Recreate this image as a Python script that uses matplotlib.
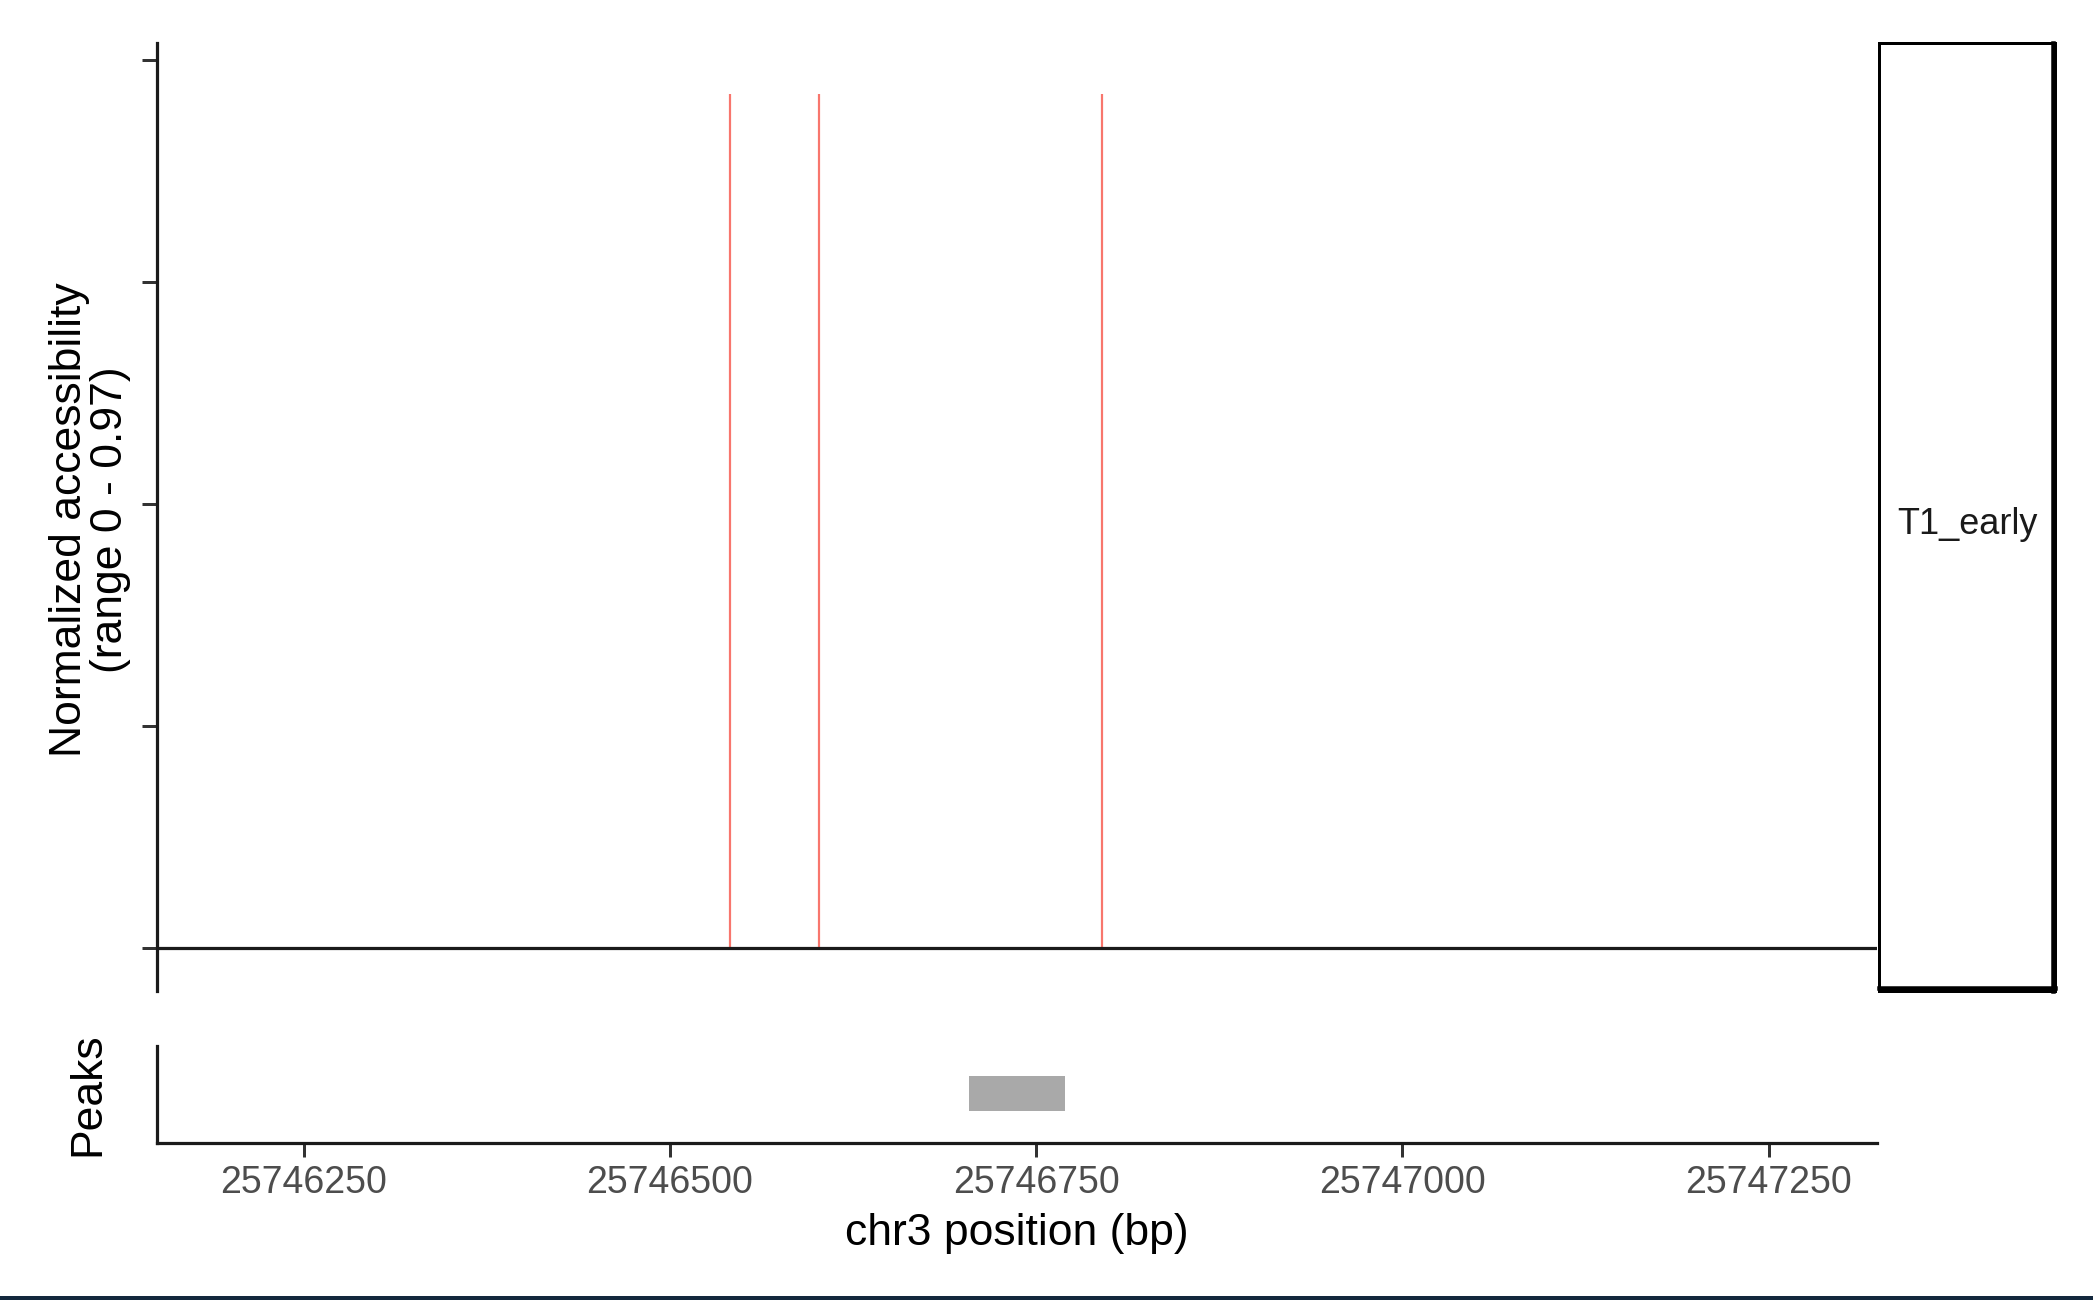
import matplotlib
matplotlib.use("Agg")
import matplotlib.pyplot as plt
from matplotlib.patches import Rectangle
from matplotlib.lines import Line2D

plt.rcParams['font.family'] = ['Liberation Sans', 'DejaVu Sans']

# ---- data ----
region_start = 25746150
region_end = 25747324
chrom = "chr3"
group_name = "T1_early"
range_max = 0.97
spike_pos = [25746541, 25746602, 25746795]
spike_val = [0.962, 0.962, 0.962]
peak_start = [25746704]
peak_end = [25746770]
x_ticks = [25746250, 25746500, 25746750, 25747000, 25747250]
y_ticks = [0, 0.25, 0.5, 0.75, 1.0]

W, H = 2093, 1300
fig = plt.figure(figsize=(W / 100, H / 100), dpi=100)
fig.patch.set_facecolor('white')

def fx(px):
    return px / W

def fy(py):
    return 1 - py / H

px2pt = 72 / 100

# main coverage panel
L, R = 157.3, 1877
T, B = 42.7, 990.7
ax = fig.add_axes([fx(L), fy(B), fx(R) - fx(L), fy(T) - fy(B)])
ax.set_xlim(region_start, region_end)
ax.set_ylim(-0.048, 1.0195)
ax.vlines(spike_pos, 0, spike_val, color='#F8766D', lw=2.2 * px2pt)
ax.axhline(0, color='#1a1a1a', lw=3.2 * px2pt)
for s in ['top', 'right', 'bottom']:
    ax.spines[s].set_visible(False)
ax.spines['left'].set_linewidth(3.2 * px2pt)
ax.spines['left'].set_color('#1a1a1a')
ax.set_yticks(y_ticks)
ax.set_yticklabels([])
ax.tick_params(axis='y', length=10.5, width=3 * px2pt, color='#333333')
ax.set_xticks([])

# strip on the right
sL, sR = 1879, 2055
sax = fig.add_axes([fx(sL), fy(B), fx(sR) - fx(sL), fy(T) - fy(B)])
sax.set_xlim(0, 1)
sax.set_ylim(0, 1)
sax.set_xticks([])
sax.set_yticks([])
for s in sax.spines.values():
    s.set_linewidth(3.0 * px2pt)
    s.set_color('black')
sax.add_line(Line2D([0.99, 0.99], [0, 1], transform=sax.transAxes, color='black', lw=4.5 * px2pt, clip_on=False))
sax.add_line(Line2D([0, 1], [0.003, 0.003], transform=sax.transAxes, color='black', lw=4.5 * px2pt, clip_on=False))
sax.text(0.5, 0.492, group_name, ha='center', va='center', fontsize=26, color='#1a1a1a')

# peaks panel
pT, pB = 1046, 1143
pax = fig.add_axes([fx(L), fy(pB), fx(R) - fx(L), fy(pT) - fy(pB)])
pax.set_xlim(region_start, region_end)
pax.set_ylim(0, 1)
widths = [e - s for s, e in zip(peak_start, peak_end)]
pax.barh([0.51] * len(peak_start), widths, left=peak_start, height=0.36, color='#A9A9A9', edgecolor='none')
pax.spines['top'].set_visible(False)
pax.spines['right'].set_visible(False)
for s in ['left', 'bottom']:
    pax.spines[s].set_linewidth(3.2 * px2pt)
    pax.spines[s].set_color('#1a1a1a')
pax.set_yticks([])
pax.set_xticks(x_ticks)
pax.set_xticklabels([str(t) for t in x_ticks], fontsize=27, color='#4D4D4D')
pax.tick_params(axis='x', length=10, width=3 * px2pt, color='#333333', pad=6)

# titles
fig.text(fx(90), fy(520), "Normalized accessibility\n(range 0 - %.2f)" % range_max,
         rotation=90, ha='center', va='center', fontsize=32, color='black',
         linespacing=1.0, multialignment='center')
fig.text(fx(88), fy(1094), "Peaks", rotation=90, ha='center', va='center', fontsize=32, color='black')
fig.text(fx(1017), fy(1233), "%s position (bp)" % chrom, ha='center', va='center', fontsize=32, color='black')

# dark bottom border band
fig.add_artist(Rectangle((0, 0), 1, 4 / H, transform=fig.transFigure, color='#13283d', lw=0))

fig.savefig('out.png', dpi=100, facecolor='white')
